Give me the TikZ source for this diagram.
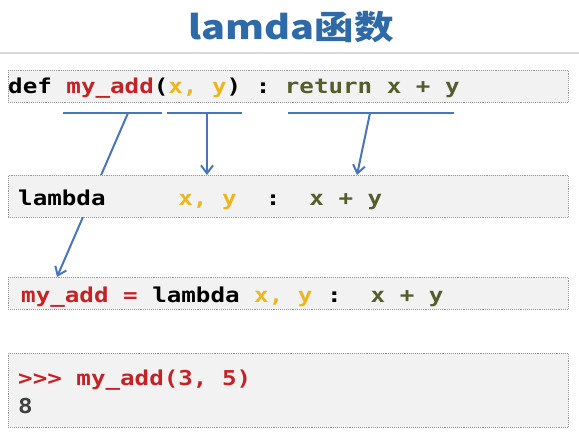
\documentclass[tikz,border=0pt]{standalone}
\usepackage{fontspec}
\usepackage{xcolor}
\usetikzlibrary{arrows.meta,positioning}
\newfontfamily\codefont[FakeStretch=1.18,Ligatures=TeXOff]{DejaVu Sans Mono}
\newfontfamily\titlefont[FakeStretch=1.2]{Noto Sans CJK SC}
\definecolor{lamblue}{RGB}{46,106,168}
\definecolor{linkblue}{RGB}{72,118,188}
\definecolor{codered}{RGB}{196,34,36}
\definecolor{codeyellow}{RGB}{236,182,30}
\definecolor{codeolive}{RGB}{84,94,44}
\definecolor{codegray}{RGB}{64,64,64}
\definecolor{boxfill}{RGB}{242,242,242}
\definecolor{boxline}{RGB}{150,150,150}

\begin{document}
\begin{tikzpicture}[x=1pt,y=-1pt,
  codebox/.style={draw=boxline,densely dotted,line width=0.9pt,fill=boxfill,
    anchor=north west,minimum width=560pt,inner sep=0pt},
  code/.style={anchor=base west,inner sep=0pt,
    font=\codefont\bfseries\fontsize{20.5}{24}\selectfont},
  uline/.style={linkblue,line width=2.4pt},
  link/.style={linkblue,line width=2pt,-{Straight Barb[length=8pt,width=12pt]}}]
  \fill[white] (0,0) rectangle (579,437);
  \useasboundingbox (0,0) rectangle (579,437);

  \node[anchor=base,inner sep=0pt,text=lamblue,
    font=\titlefont\bfseries\fontsize{33}{36}\selectfont] (title) at (291,39) {lamda函数};
  \draw[gray!30,line width=2pt] (0,53) -- (579,53);

  % runs behind the lambda box
  \coordinate (u1) at (128,113);
  \coordinate (t1) at (57,277);
  \draw[link] (u1) -- (t1);

  \node[codebox,minimum height=32pt] (defbox) at (8,70) {};
  \node[codebox,minimum height=42pt] (lambox) at (8,175) {};
  \node[codebox,minimum height=32pt] (assignbox) at (8,277) {};
  \node[codebox,minimum height=74pt] (callbox) at (8,353) {};

  \node[code] (deftext) at (8,93) {def~\textcolor{codered}{my\_add}(\textcolor{codeyellow}{x,~y})~:~\textcolor{codeolive}{return~x~+~y}};
  \node[code] (lamtext) at (18,205) {lambda~~~~~\textcolor{codeyellow}{x,~y}~~:~~\textcolor{codeolive}{x~+~y}};
  \node[code] (assigntext) at (21,302) {\textcolor{codered}{my\_add~=}~lambda~\textcolor{codeyellow}{x,~y}~:~~\textcolor{codeolive}{x~+~y}};
  \node[code,text=codered] (calltext) at (18,385) {>>>~my\_add(3,~5)};
  \node[code,text=codegray] (result) at (18,413) {8};

  \draw[uline] (63,113) -- (162,113);
  \draw[uline] (167,113) -- (242,113);
  \draw[uline] (288,113) -- (454,113);

  \coordinate (u2) at (207,113);
  \coordinate (u3) at (370,113);
  \coordinate (t3) at (357,175);
  \draw[link] (u2) -- (u2 |- lambox.north);
  \draw[link] (u3) -- (t3);
\end{tikzpicture}
\end{document}
